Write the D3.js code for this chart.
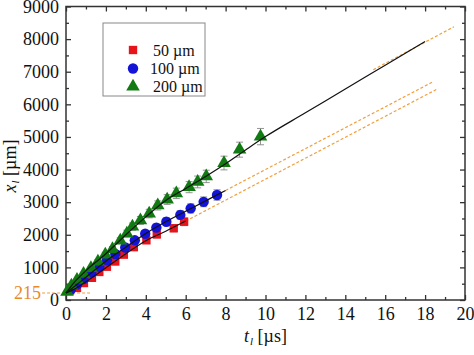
<!DOCTYPE html>
<html><head><meta charset="utf-8">
<script src="https://cdn.jsdelivr.net/npm/d3@7"></script>
<style>body{margin:0;background:#fff}svg{display:block}</style>
</head><body>
<svg id="c" width="474" height="355"></svg>
<script>
// ---- data ----
const seriesNames = ["50 µm", "100 µm", "200 µm"];
const redT = [0.2,0.55,0.9,1.3,1.67,2.05,2.47,2.9,3.4,4.03,4.55,5.4,5.92];
const redX = [290,370,520,680,860,1020,1180,1390,1620,1830,2010,2200,2400];
const redErr = [20,25,30,40,45,55,60,70,80,90,100,110,120];
const blueT = [0.25,0.55,0.88,1.27,1.67,2.05,2.47,2.97,3.45,3.97,4.53,5.03,5.73,6.25,6.9,7.57];
const blueX = [330,470,640,840,1020,1220,1410,1610,1830,2030,2220,2400,2610,2810,3010,3220];
const blueErr = [20,25,35,40,50,60,70,80,90,100,110,120,130,140,150,160];
const greenT = [0.05,0.27,0.55,0.88,1.25,1.6,1.97,2.33,2.72,3.05,3.33,3.73,4.17,4.6,5.07,5.53,6.17,6.6,7.03,7.92,8.7,9.75];
const greenX = [250,440,620,800,980,1180,1390,1560,1820,2040,2250,2440,2650,2900,3080,3270,3460,3620,3790,4200,4610,5010];
const greenErr = [15,25,30,40,50,60,70,80,90,100,110,120,130,140,150,160,170,180,190,210,230,250];
// fitted curves (knots)
const fitRedT = [0,0.5,1,2,3,4,5,6];
const fitRedX = [215,360,560,990,1420,1820,2110,2420];
const fitBlueT = [0,0.5,1,2,3,4,5,6,7,8];
const fitBlueX = [215,450,700,1190,1620,2040,2400,2720,3040,3360];
const fitGreenT = [0,0.5,1,2,3,4,5,6,7,8,9,10,12,14,16,18];
const fitGreenX = [215,600,900,1420,2000,2550,3050,3420,3790,4180,4600,5010,5740,6470,7200,7930];
// linear asymptotes (dashed)
const asymRedT = [6.0,18.65];  const asymRedX = [2420,6483];
const asymBlueT = [8.0,18.35]; const asymBlueX = [3360,6676];
const asymGreenT = [15.4,19.45]; const asymGreenX = [7060,8380];
const x0Value = 215;
const x0LineT = [-1.2,1.3];
const xTicks = [0,2,4,6,8,10,12,14,16,18,20];
const yTicks = [0,1000,2000,3000,4000,5000,6000,7000,8000,9000];

// ---- drawing ----
const svg = d3.select("#c");
const L=66, R=465, T=6.5, B=300;
const x = d3.scaleLinear().domain([0,20]).range([L,R]);
const y = d3.scaleLinear().domain([0,9000]).range([B,T]);
const serif = "Liberation Serif";
const orange = "#f0a040";

const minorX = d3.range(1,20,2);
const minorY = d3.range(500,9000,1000);

function styleAxis(g){
  g.select(".domain").remove();
  g.selectAll("line").attr("stroke","#333").attr("stroke-width",1.3);
  g.selectAll("text").style("font-family",serif).style("font-size","18px").attr("fill","#111");
}
// bottom
svg.append("g").attr("transform",`translate(0,${B})`)
  .call(d3.axisBottom(x).tickValues(xTicks).tickFormat(d3.format("d")).tickSizeInner(-5).tickSizeOuter(0).tickPadding(7)).call(styleAxis);
svg.append("g").attr("transform",`translate(0,${B})`)
  .call(d3.axisBottom(x).tickValues(minorX).tickFormat("").tickSizeInner(-3).tickSizeOuter(0)).call(styleAxis);
// top
svg.append("g").attr("transform",`translate(0,${T})`)
  .call(d3.axisTop(x).tickValues(xTicks).tickFormat("").tickSizeInner(-5).tickSizeOuter(0)).call(styleAxis);
svg.append("g").attr("transform",`translate(0,${T})`)
  .call(d3.axisTop(x).tickValues(minorX).tickFormat("").tickSizeInner(-3).tickSizeOuter(0)).call(styleAxis);
// left
svg.append("g").attr("transform",`translate(${L},0)`)
  .call(d3.axisLeft(y).tickValues(yTicks).tickFormat(d3.format("d")).tickSizeInner(-5).tickSizeOuter(0).tickPadding(7)).call(styleAxis);
svg.append("g").attr("transform",`translate(${L},0)`)
  .call(d3.axisLeft(y).tickValues(minorY).tickFormat("").tickSizeInner(-3).tickSizeOuter(0)).call(styleAxis);
// right
svg.append("g").attr("transform",`translate(${R},0)`)
  .call(d3.axisRight(y).tickValues(yTicks).tickFormat("").tickSizeInner(-5).tickSizeOuter(0)).call(styleAxis);
svg.append("g").attr("transform",`translate(${R},0)`)
  .call(d3.axisRight(y).tickValues(minorY).tickFormat("").tickSizeInner(-3).tickSizeOuter(0)).call(styleAxis);
// frame
svg.append("rect").attr("x",L).attr("y",T).attr("width",R-L).attr("height",B-T)
  .attr("fill","none").attr("stroke","#333").attr("stroke-width",1.5);

// 215 reference
svg.append("path").datum(x0LineT)
  .attr("d",d3.line().x(d=>x(d)).y(()=>y(x0Value)))
  .attr("stroke",orange).attr("stroke-width",1.1).attr("stroke-dasharray","3,2").attr("fill","none");
svg.append("text").attr("x",x(x0LineT[0])-1).attr("y",y(x0Value)).attr("dy","0.35em")
  .attr("text-anchor","end").style("font-family",serif).style("font-size","18px").attr("fill","#e8892a").text(x0Value);

// asymptotes
[[asymRedT,asymRedX],[asymBlueT,asymBlueX],[asymGreenT,asymGreenX]].forEach(([ts,xs])=>{
  svg.append("path").datum(ts.map((t,i)=>[t,xs[i]]))
    .attr("d",d3.line().x(d=>x(d[0])).y(d=>y(d[1])))
    .attr("stroke",orange).attr("stroke-width",1.2).attr("stroke-dasharray","3,2").attr("fill","none");
});

// series
const series = [
  {t:redT,v:redX,e:redErr,color:"#e8141c",shape:d3.symbolSquare,size:70},
  {t:blueT,v:blueX,e:blueErr,color:"#1414d8",shape:d3.symbolCircle,size:85},
  {t:greenT,v:greenX,e:greenErr,color:"#127a12",shape:d3.symbolTriangle,size:80}
];
series.forEach(s=>{
  const g = svg.append("g");
  s.t.forEach((t,i)=>{
    const cx=x(t), y1=y(s.v[i]+s.e[i]), y2=y(s.v[i]-s.e[i]);
    g.append("line").attr("x1",cx).attr("x2",cx).attr("y1",y1).attr("y2",y2).attr("stroke","#888").attr("stroke-width",0.9);
    g.append("line").attr("x1",cx-3.5).attr("x2",cx+3.5).attr("y1",y1).attr("y2",y1).attr("stroke","#888").attr("stroke-width",0.9);
    g.append("line").attr("x1",cx-3.5).attr("x2",cx+3.5).attr("y1",y2).attr("y2",y2).attr("stroke","#888").attr("stroke-width",0.9);
  });
  g.selectAll("path.m").data(s.t.map((t,i)=>[t,s.v[i]])).join("path")
    .attr("transform",d=>`translate(${x(d[0])},${y(d[1])})`)
    .attr("d",d3.symbol().type(s.shape).size(s.size)).attr("fill",s.color);
});

// fits
[[fitRedT,fitRedX],[fitBlueT,fitBlueX],[fitGreenT,fitGreenX]].forEach(([ts,xs])=>{
  svg.append("path").datum(ts.map((t,i)=>[t,xs[i]]))
    .attr("d",d3.line().x(d=>x(d[0])).y(d=>y(d[1])).curve(d3.curveMonotoneX))
    .attr("stroke","#111").attr("stroke-width",1.2).attr("fill","none");
});

// legend
svg.append("rect").attr("x",103).attr("y",23).attr("width",102).attr("height",73)
  .attr("fill","#fff").attr("stroke","#888").attr("stroke-width",1);
const legY = [50,68.5,86.5];
const legTextX = [153,150,153];
series.forEach((s,i)=>{
  svg.append("path").attr("transform",`translate(133,${legY[i]})`)
    .attr("d",d3.symbol().type(s.shape).size(s.size)).attr("fill",s.color);
  svg.append("text").attr("x",legTextX[i]).attr("y",legY[i]).attr("dy","0.35em")
    .style("font-family",serif).style("font-size","16px").attr("fill","#111").text(seriesNames[i]);
});

// axis titles
const xt = svg.append("text").attr("x",244).attr("y",342).style("font-family",serif).style("font-size","18px").attr("fill","#111");
xt.append("tspan").style("font-style","italic").text("t");
xt.append("tspan").style("font-style","italic").style("font-size","11px").attr("dy",3).attr("dx",1).text("l");
xt.append("tspan").attr("dy",-3).text(" [µs]");

const yt = svg.append("text").attr("transform","translate(16,166) rotate(-90)").attr("text-anchor","middle")
  .style("font-family",serif).style("font-size","18px").attr("fill","#111");
yt.append("tspan").style("font-style","italic").text("x");
yt.append("tspan").style("font-style","italic").style("font-size","11px").attr("dy",3).attr("dx",1).text("l");
yt.append("tspan").attr("dy",-3).text(" [µm]");
</script>
</body></html>
